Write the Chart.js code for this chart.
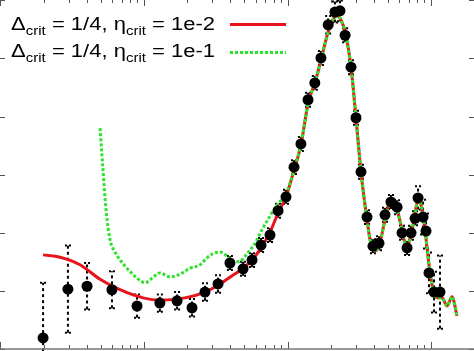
<!DOCTYPE html>
<html>
<head>
<meta charset="utf-8">
<script src="https://cdn.jsdelivr.net/npm/chart.js@4/dist/chart.umd.min.js"></script>
<style>
  html, body { margin: 0; padding: 0; background: #fff; overflow: hidden; }
  #wrap { position: relative; width: 474px; height: 351px; overflow: hidden; }
  #c { position: absolute; left: -10px; top: -10px; }
  .key { position: absolute; font-family: "Liberation Sans", Arial, sans-serif; font-size: 22px;
         color: #000; white-space: nowrap; text-align: right; line-height: 22px;
         transform: scale(1, 0.86); transform-origin: right top; }
  .key sub { font-size: 15px; vertical-align: -5px; line-height: 0; }
  .sample { position: absolute; left: 230px; width: 56px; height: 3px; }
</style>
</head>
<body>
<div id="wrap">
  <canvas id="c" width="500" height="370"></canvas>
  <div class="key" style="right:259px; top:15px">&Delta;<sub>crit</sub> = 1/4, &eta;<sub>crit</sub> = 1e-2</div>
  <div class="key" style="right:259px; top:42px">&Delta;<sub>crit</sub> = 1/4, &eta;<sub>crit</sub> = 1e-1</div>
  <div class="sample" style="top:23px; background:#e8141c"></div>
  <div class="sample" style="top:51px; background:repeating-linear-gradient(to right,#2de32d 0 3px,transparent 3px 5px)"></div>
</div>
<script>
// measured points (with y error)
const obsX = [1.98, 2.95, 4.01, 5.98, 8.94, 12.9, 17.0, 21.6, 26.6, 32.8, 39.7, 49.0, 56.6, 65.4, 75.5,
  85.9, 97.6, 111, 124, 139, 155, 171, 192, 214, 232, 252, 277, 300, 325, 358, 394, 434, 478, 526,
  580, 628, 681, 726, 774, 812, 880, 923, 968, 1049, 1155];
const obsY = [0.19, 1.03, 1.08, 1.02, 0.74, 0.79, 0.83, 0.71, 0.98, 1.12, 1.48, 1.38, 1.53, 1.79, 1.96,
  2.38, 2.62, 3.13, 3.53, 4.29, 4.58, 5.01, 5.58, 5.80, 5.82, 5.40, 4.85, 3.98, 3.05, 2.27, 1.77, 1.82,
  2.31, 2.53, 2.44, 2.00, 1.74, 2.00, 2.25, 2.60, 2.27, 2.03, 1.31, 0.98, 0.98];
const obsErr = [0.95, 0.75, 0.40, 0.32, 0.20, 0.15, 0.15, 0.15, 0.15, 0.15, 0.12, 0.12, 0.12, 0.12, 0.12,
  0.12, 0.12, 0.12, 0.12, 0.12, 0.12, 0.12, 0.15, 0.18, 0.18, 0.12, 0.12, 0.12, 0.12, 0.12, 0.12, 0.12,
  0.12, 0.12, 0.12, 0.12, 0.12, 0.12, 0.12, 0.20, 0.30, 0.30, 0.35, 0.35, 0.63];

// eta_crit = 1e-2, low energy part
const redLowX = [1.98, 2.60, 3.58, 4.94, 6.80, 9.84, 12.9, 19.3, 26.6, 33.9, 41.1, 49.0, 56.6, 65.4,
  75.5, 85.9, 97.6];
const redLowY = [1.62, 1.58, 1.45, 1.20, 1.02, 0.88, 0.84, 0.88, 0.98, 1.12, 1.26, 1.39, 1.53, 1.74,
  2.01, 2.34, 2.62];

// eta_crit = 1e-1, low energy part
const greenLowX = [4.94, 5.18, 5.44, 5.80, 6.28, 7.37, 8.94, 10.2, 11.4, 12.9, 15.2, 17.8, 20.9, 24.6,
  27.5, 30.3, 33.9, 37.9, 42.4, 46.7, 52.2, 59.4, 66.4, 75.5, 85.9, 97.6];
const greenLowY = [3.80, 3.08, 2.39, 1.88, 1.67, 1.43, 1.22, 1.14, 1.22, 1.31, 1.24, 1.29, 1.39, 1.45,
  1.57, 1.64, 1.67, 1.60, 1.50, 1.51, 1.64, 1.82, 2.05, 2.29, 2.50, 2.67];

// both fits coincide above ~110
const fitHighX = [111, 124, 139, 156, 171, 192, 208, 221, 236, 252, 277, 300, 325, 352, 376, 401, 434,
  478, 526, 570, 618, 670, 714, 761, 812, 852, 908, 968, 1033, 1101, 1193, 1293, 1401, 1518];
const fitHighY = [3.08, 3.51, 4.22, 4.60, 4.97, 5.46, 5.68, 5.74, 5.66, 5.46, 4.85, 3.98, 3.05, 2.36,
  1.88, 1.69, 1.77, 2.22, 2.55, 2.46, 2.13, 1.79, 1.88, 2.22, 2.56, 2.48, 2.05, 1.45, 1.02, 0.88, 0.88,
  0.74, 0.90, 0.57];

const xMajorTicks = [1, 10, 100, 1000];
const yTicks = [0, 1, 2, 3, 4, 5, 6];

const toPts = (xs, ys) => xs.map((x, i) => ({ x: x, y: ys[i] }));

const xMinorTicks = [];
xMajorTicks.forEach(d => { for (let m = 2; m <= 9; m++) xMinorTicks.push(d * m); });

// gnuplot style border with inward ticks
const frame = {
  id: 'frame',
  afterDraw(chart) {
    const { ctx, chartArea: a, scales } = chart;
    ctx.save();
    ctx.strokeStyle = '#555';
    ctx.lineWidth = 1;
    ctx.beginPath();
    const tick = (x, len) => {
      const px = Math.round(scales.x.getPixelForValue(x)) + 0.5;
      if (px < a.left || px > a.right) return;
      ctx.moveTo(px, a.bottom); ctx.lineTo(px, a.bottom - len);
      ctx.moveTo(px, a.top); ctx.lineTo(px, a.top + len);
    };
    xMajorTicks.forEach(v => tick(v, 7));
    xMinorTicks.forEach(v => tick(v, 4));
    yTicks.forEach(v => {
      const py = Math.round(scales.y.getPixelForValue(v)) + 0.5;
      ctx.moveTo(a.left, py); ctx.lineTo(a.left + 7, py);
      ctx.moveTo(a.right, py); ctx.lineTo(a.right - 7, py);
    });
    ctx.stroke();
    ctx.strokeStyle = '#777';
    ctx.lineWidth = 1.5;
    ctx.strokeRect(a.left, a.top, a.right - a.left, a.bottom - a.top);
    ctx.restore();
  }
};

// dashed y error bars under the points
const errorBars = {
  id: 'errorBars',
  beforeDatasetsDraw(chart) {
    const { ctx, scales } = chart;
    ctx.save();
    ctx.strokeStyle = '#000';
    ctx.lineWidth = 2;
    obsX.forEach((x, i) => {
      const px = scales.x.getPixelForValue(x);
      const lo = scales.y.getPixelForValue(obsY[i] - obsErr[i]);
      const hi = scales.y.getPixelForValue(obsY[i] + obsErr[i]);
      ctx.setLineDash([3, 3]);
      ctx.beginPath();
      ctx.moveTo(px, lo); ctx.lineTo(px, hi);
      ctx.stroke();
      ctx.setLineDash([2, 2]);
      ctx.beginPath();
      ctx.moveTo(px - 3, lo); ctx.lineTo(px + 3, lo);
      ctx.moveTo(px - 3, hi); ctx.lineTo(px + 3, hi);
      ctx.stroke();
    });
    ctx.restore();
  }
};

new Chart(document.getElementById('c'), {
  type: 'line',
  data: {
    datasets: [
      {
        label: 'data',
        data: toPts(obsX, obsY),
        showLine: false,
        pointRadius: 5.5,
        pointBackgroundColor: '#000',
        pointBorderColor: '#000',
        pointBorderWidth: 0,
        order: 0
      },
      {
        label: 'Δcrit = 1/4, ηcrit = 1e-1',
        data: toPts(greenLowX.concat(fitHighX), greenLowY.concat(fitHighY)),
        borderColor: '#2de32d',
        borderWidth: 3,
        borderDash: [3, 2],
        pointRadius: 0,
        cubicInterpolationMode: 'monotone',
        fill: false,
        order: 1
      },
      {
        label: 'Δcrit = 1/4, ηcrit = 1e-2',
        data: toPts(redLowX.concat(fitHighX), redLowY.concat(fitHighY)),
        borderColor: '#e8141c',
        borderWidth: 3,
        pointRadius: 0,
        cubicInterpolationMode: 'monotone',
        fill: false,
        order: 2
      }
    ]
  },
  options: {
    responsive: false,
    animation: false,
    layout: { padding: { left: 8, top: 9, right: 14, bottom: 11 } },
    plugins: { legend: { display: false }, tooltip: { enabled: false } },
    scales: {
      x: { type: 'logarithmic', min: 0.9607, max: 2058, display: false },
      y: { type: 'linear', min: 0, max: 6.024, display: false }
    }
  },
  plugins: [errorBars, frame]
});
</script>
</body>
</html>
